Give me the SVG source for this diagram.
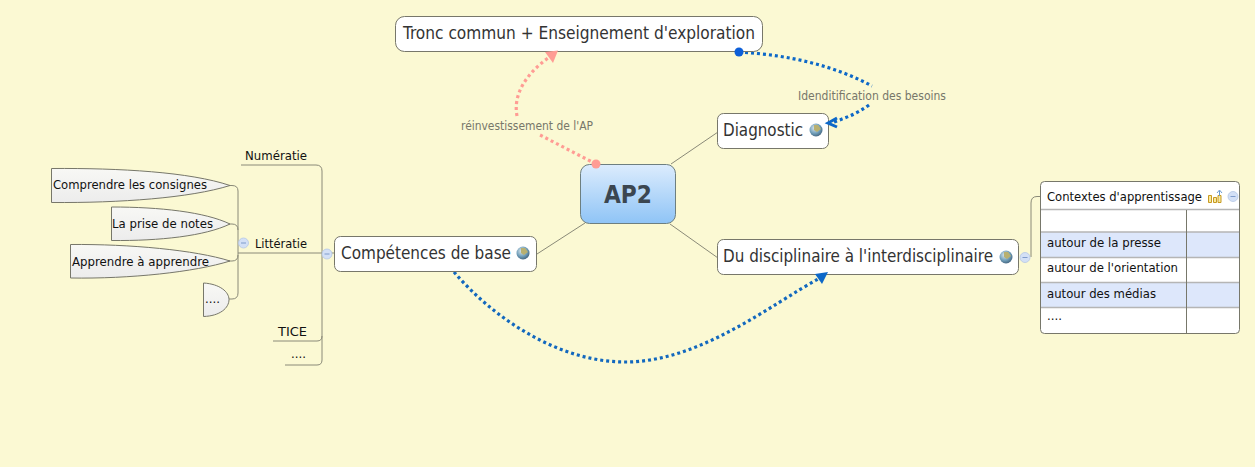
<svg xmlns="http://www.w3.org/2000/svg" width="1255" height="467" viewBox="0 0 1255 467">
<style>
text{font-family:"DejaVu Sans Condensed","DejaVu Sans",sans-serif;fill:#222}
.t{font-size:17.500px;fill:#333}
.s{font-size:13px;fill:#111}
.l{font-size:12px;fill:#77776a}
.box{fill:#fff;stroke:#77776a;stroke-width:1}
.line{fill:none;stroke:#8a8a78;stroke-width:1}
.b{fill:url(#g2);stroke:#77776a;stroke-width:1}
.col{fill:#d3e0f6;stroke:#b4c6e4;stroke-width:.8}
.minus{stroke:#7f9ccc;stroke-width:1}
</style>
<defs>
<linearGradient id="g1" x1="0" y1="0" x2="0" y2="1"><stop offset="0" stop-color="#dcecfd"/><stop offset="1" stop-color="#8fc4f6"/></linearGradient>
<linearGradient id="g2" x1="0" y1="0" x2="0" y2="1"><stop offset="0" stop-color="#f8f8f5"/><stop offset="1" stop-color="#ececec"/></linearGradient>
<radialGradient id="e" cx=".4" cy=".35" r=".7"><stop offset="0" stop-color="#e0eaf0"/><stop offset=".6" stop-color="#6f9db8"/><stop offset="1" stop-color="#40607a"/></radialGradient>
<g id="globe"><circle r="6.500" fill="url(#e)"/><path d="M-2-5 2-5 5-1 1 2-2 0Z" fill="#b8b070"/></g>
<g id="col"><circle r="5" class="col"/><path d="M-2.500 0H2.500" class="minus"/></g>
</defs>
<rect width="1255" height="467" fill="#fbf9d3"/>
<g id="connectors">
<path class="line" d="M671 164 718 132M670 224 718 258M585 223 537 254"/>
<path class="line" d="M334 253H238M322 253V171Q322 165 316 165H241M322 253V360Q322 365 317 365H285M322 336Q322 341 317 341H273"/>
<path class="line" d="M238 253V191Q238 185.500 232 185.500H228M238 230Q238 224 232 224H228M238 255Q238 261 232 261H228M238 253V293Q238 299 232 299H228"/>
<path class="line" d="M1031 257V203Q1031 196.500 1037 196.500H1041"/>
<g fill="none" stroke-dasharray="3 3">
<path stroke="#0d68c8" stroke-width="3.200" d="M739 52C790 55 835 66 872 86M869 105C858 113 848 117 834 122"/>
<path stroke="#ff9c94" stroke-width="3.200" d="M596 164 540 135M517 116C513 95 525 75 548 58"/>
<path stroke="#1268be" stroke-width="3.200" d="M454 272C495 320 560 362 625 362 700 362 770 305 820 278"/>
</g>
<text class="l" x="461" y="130" textLength="132" lengthAdjust="spacingAndGlyphs">réinvestissement de l'AP</text>
<text class="l" x="798" y="100" textLength="148" lengthAdjust="spacingAndGlyphs">Idenditification des besoins</text>
</g>
<g id="n-ap2"><rect x="580.500" y="164.500" width="95" height="59" rx="9" fill="url(#g1)" stroke="#6d7f80"/><text x="604" y="203" textLength="48" lengthAdjust="spacingAndGlyphs" font-size="24" font-weight="700" style="fill:#3b4650">AP2</text></g>
<g id="n-tronc"><rect x="395.500" y="16.500" width="367" height="35" rx="9" class="box"/><text class="t" x="403" y="39" textLength="352" lengthAdjust="spacingAndGlyphs">Tronc commun + Enseignement d'exploration</text></g>
<g id="n-diag"><rect x="717.500" y="113.500" width="111" height="35" rx="6" class="box"/><text class="t" x="723" y="136" textLength="80" lengthAdjust="spacingAndGlyphs">Diagnostic</text><use href="#globe" x="816" y="130"/></g>
<g id="n-disc"><rect x="717.500" y="239.500" width="301" height="35" rx="6" class="box"/><text class="t" x="723" y="262" textLength="270" lengthAdjust="spacingAndGlyphs">Du disciplinaire à l'interdisciplinaire</text><use href="#globe" x="1006" y="257"/></g>
<g id="n-comp"><rect x="334.500" y="236.500" width="202" height="35" rx="6" class="box"/><text class="t" x="341" y="259" textLength="170" lengthAdjust="spacingAndGlyphs">Compétences de base</text><use href="#globe" x="523" y="253"/></g>
<use id="c1" href="#col" x="327" y="254"/><use id="c2" href="#col" x="243.500" y="243"/><use id="c3" href="#col" x="1025" y="257.500"/>
<g id="n-num"><text class="s" x="245" y="160" textLength="62" lengthAdjust="spacingAndGlyphs">Numératie</text></g>
<g id="n-lit"><text class="s" x="255" y="248" textLength="52" lengthAdjust="spacingAndGlyphs">Littératie</text></g>
<g id="n-tice"><text class="s" x="278" y="336" textLength="29" lengthAdjust="spacingAndGlyphs">TICE</text></g>
<g id="n-dots"><text class="s" x="291" y="358" textLength="15" lengthAdjust="spacingAndGlyphs">....</text></g>
<g id="n-a"><path class="b" d="M51.500 168.500C120 168 190 172 230 185.500 190 198 120 203 51.500 202.500Z"/><text class="s" x="53" y="189" textLength="154" lengthAdjust="spacingAndGlyphs">Comprendre les consignes</text></g>
<g id="n-b"><path class="b" d="M111.500 207C160 207 205 212 230 224 205 236 160 241 111.500 240.500Z"/><text class="s" x="112" y="228" textLength="101" lengthAdjust="spacingAndGlyphs">La prise de notes</text></g>
<g id="n-c"><path class="b" d="M70.500 244.500C130 244 195 250 230 261 195 272 130 279 70.500 278Z"/><text class="s" x="72" y="266" textLength="137" lengthAdjust="spacingAndGlyphs">Apprendre à apprendre</text></g>
<g id="n-d"><path class="b" d="M203.500 283C220 284 229 292 229 299.500 229 308 220 316 203.500 316.500Z"/><text class="s" x="205" y="303" textLength="15" lengthAdjust="spacingAndGlyphs">....</text></g>
<g id="n-table">
<rect x="1040.500" y="181.500" width="199" height="152" rx="4" fill="#fff" stroke="#77776a"/>
<rect x="1041" y="232" width="198" height="25" fill="#dde7fb"/>
<rect x="1041" y="282" width="198" height="25" fill="#dde7fb"/>
<path d="M1041 209.500H1239M1041 232H1239M1041 257.500H1239M1041 282.500H1239M1041 307.500H1239" stroke="#b5b5b5" stroke-width="1.500" fill="none"/>
<path d="M1186.500 210V333" stroke="#77776a" fill="none"/>
<text class="s" x="1047" y="201" textLength="155" lengthAdjust="spacingAndGlyphs">Contextes d'apprentissage</text>
<path d="M1208.500 195.500h3v7h-3zM1213.500 197.500h3v5h-3zM1218 195.500h3v7h-3z" fill="#f6e9a0" stroke="#c89a20"/>
<path d="M1219.500 196V191M1217 193l2.500-3 2.500 3" fill="none" stroke="#6a9ad0"/>
<use href="#col" x="1233" y="196.500"/>
<text class="s" x="1047" y="246.500" textLength="114" lengthAdjust="spacingAndGlyphs">autour de la presse</text>
<text class="s" x="1047" y="272" textLength="131" lengthAdjust="spacingAndGlyphs">autour de l'orientation</text>
<text class="s" x="1047" y="298" textLength="109" lengthAdjust="spacingAndGlyphs">autour des médias</text>
<text class="s" x="1047" y="320" textLength="15" lengthAdjust="spacingAndGlyphs">....</text>
</g>
<g id="connector-ends">
<circle cx="739" cy="52" r="4.500" fill="#0d5fd8"/>
<circle cx="596" cy="164" r="4.500" fill="#ff9c94"/>
<path d="M545 52 558 50.500 553 63Z" fill="#ff9c94"/>
<path d="M837 118 828 123 837 127" fill="none" stroke="#0d68c8" stroke-width="3"/>
<path d="M815 274 828 272 822 284Z" fill="#0d68c8"/>
</g>
</svg>
